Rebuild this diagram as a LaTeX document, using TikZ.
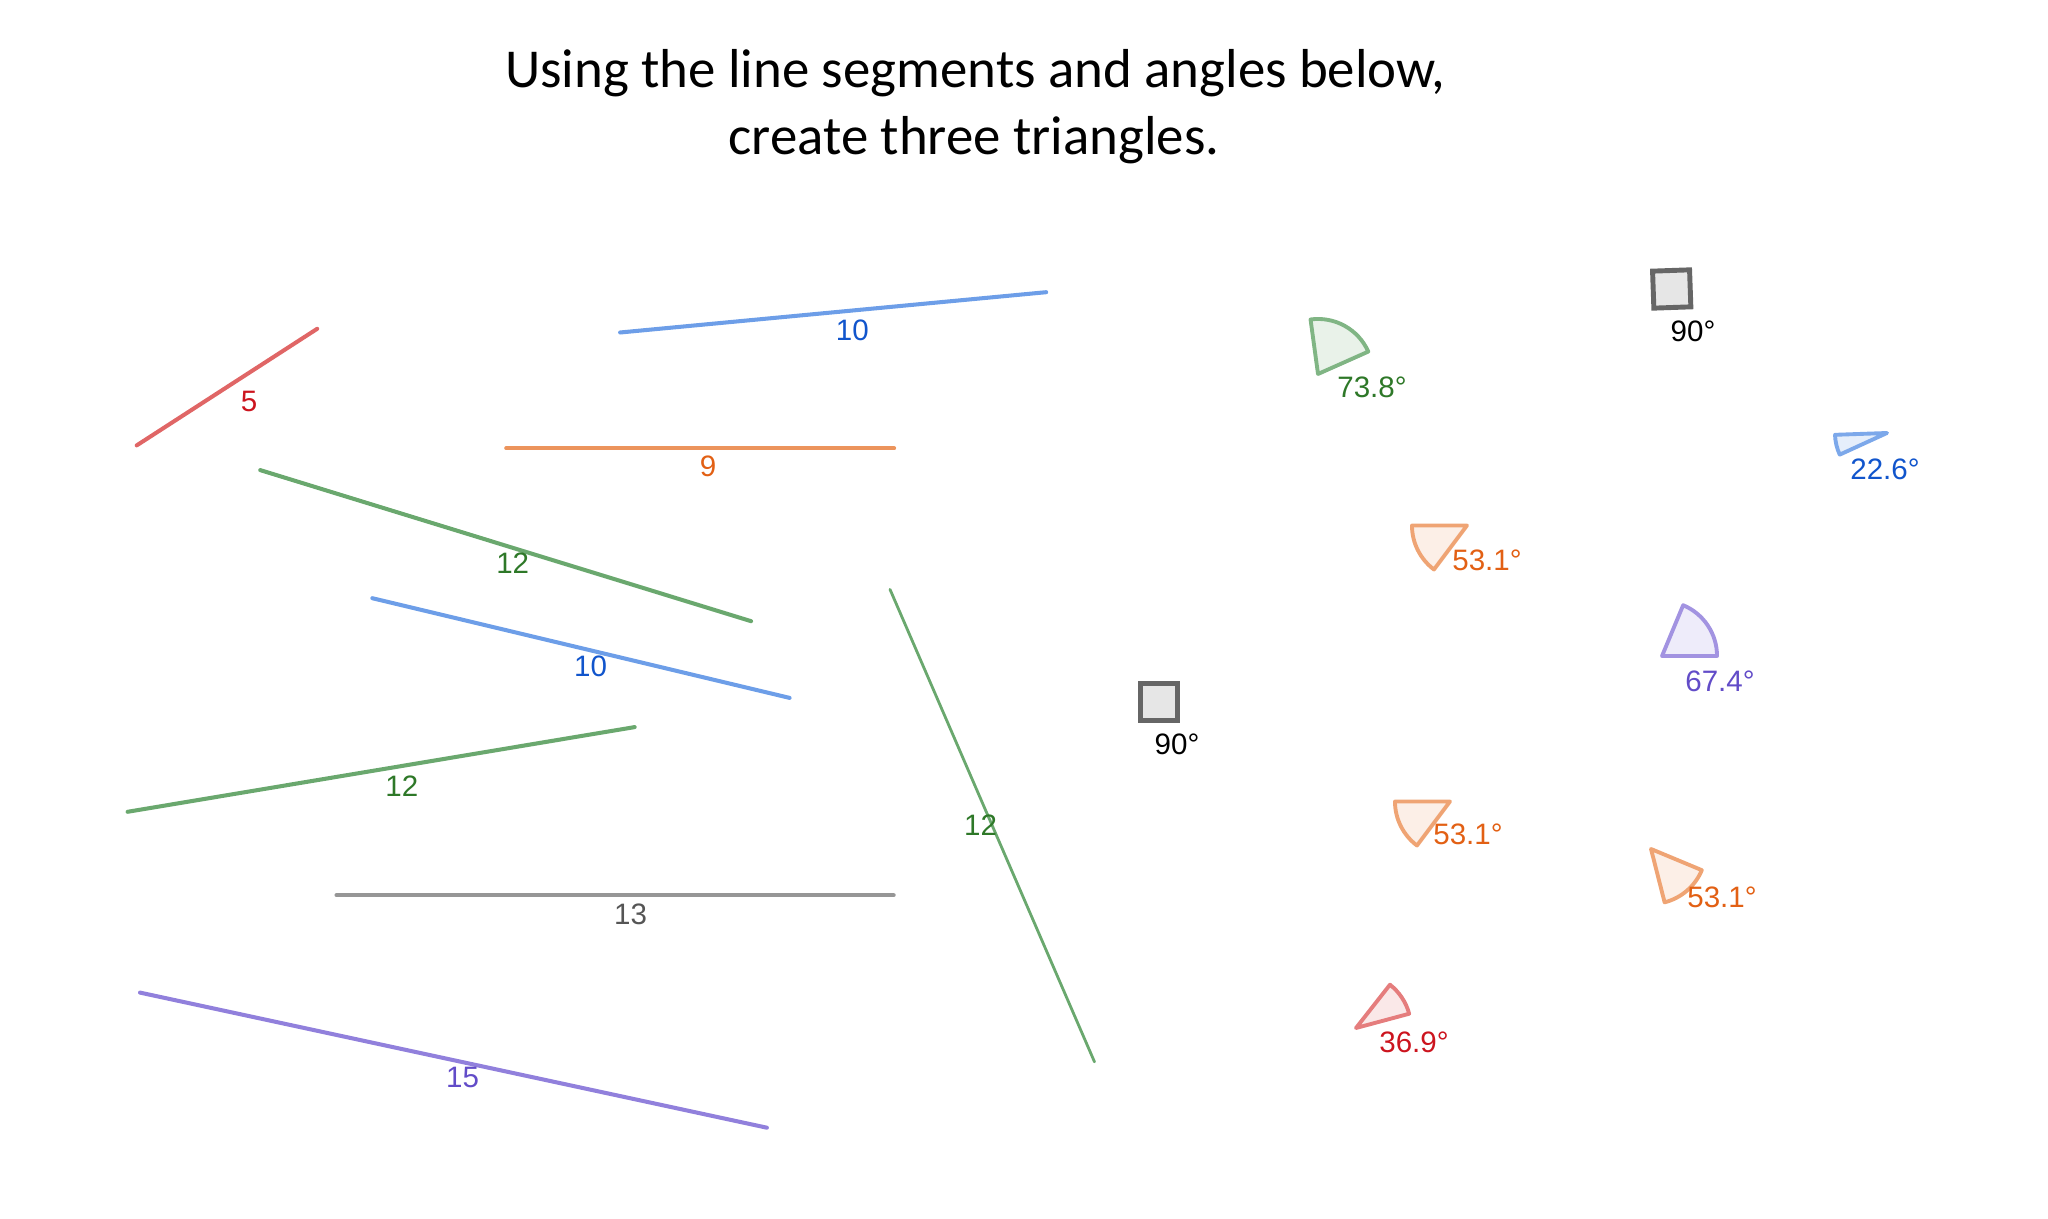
\documentclass[tikz,border=0pt]{standalone}
\usepackage{fontspec}
\setmainfont{Carlito}
\newfontfamily\labelfont{Liberation Sans}
\usetikzlibrary{positioning}
\definecolor{segRed}{RGB}{224,102,102}
\definecolor{segBlue}{RGB}{109,158,232}
\definecolor{segOrange}{RGB}{236,148,92}
\definecolor{segGreen}{RGB}{106,168,110}
\definecolor{segGray}{RGB}{150,150,150}
\definecolor{segPurple}{RGB}{145,128,220}
\definecolor{labRed}{RGB}{204,20,30}
\definecolor{labBlue}{RGB}{17,85,204}
\definecolor{labOrange}{RGB}{226,96,20}
\definecolor{labGreen}{RGB}{46,120,40}
\definecolor{labGray}{RGB}{85,85,85}
\definecolor{labPurple}{RGB}{98,76,200}
\definecolor{boxGray}{RGB}{102,102,102}
\definecolor{boxFill}{RGB}{230,230,230}

\begin{document}
\begin{tikzpicture}[x=0.01cm,y=-0.01cm]
    %
    % `segment' is used for the given line segments.
    % `wedge' is used for the angle sectors, `rightangle' for the 90 degree boxes.
    % `seglabel' is used for every length and angle label.
    \tikzstyle{segment} = [line width=1.15pt,line cap=round]
    \tikzstyle{wedge} = [line width=1.1pt,line join=round]
    \tikzstyle{rightangle} = [draw=boxGray,fill=boxFill,line width=1.4pt,minimum size=0.37cm,inner sep=0pt]
    \tikzstyle{seglabel} = [font=\labelfont\fontsize{8.4}{10}\selectfont,inner sep=0pt]
    \useasboundingbox (0,0) rectangle (2048,1219);
    %
    % Title
    \node[anchor=base,font=\fontsize{15.6}{19}\selectfont] (title1) at (975,88) {Using the line segments and angles below,};
    \node[anchor=base,font=\fontsize{15.6}{19}\selectfont] (title2) at (974,155) {create three triangles.};
    %
    % Segment ends
    \coordinate (s5a) at (136.7,445.4);  \coordinate (s5b) at (317.2,328.8);
    \coordinate (s10a) at (620.1,332.5); \coordinate (s10b) at (1046.2,292.2);
    \coordinate (s9a) at (506.2,448.4);  \coordinate (s9b) at (894.1,448.4);
    \coordinate (s12a) at (260.2,470.1); \coordinate (s12b) at (751.1,621.2);
    \coordinate (t10a) at (372.3,598.2); \coordinate (t10b) at (789.6,697.9);
    \coordinate (t12a) at (127.6,811.8); \coordinate (t12b) at (634.7,727.1);
    \coordinate (u12a) at (890,589.4);   \coordinate (u12b) at (1094.5,1061.9);
    \coordinate (s13a) at (336.5,895.3); \coordinate (s13b) at (893.7,895.3);
    \coordinate (s15a) at (140,992.6);   \coordinate (s15b) at (766.9,1127.7);
    %
    % Segments
    \draw[segment,segRed] (s5a) -- (s5b);
    \draw[segment,segBlue] (s10a) -- (s10b);
    \draw[segment,segOrange] (s9a) -- (s9b);
    \draw[segment,segGreen] (s12a) -- (s12b);
    \draw[segment,segBlue] (t10a) -- (t10b);
    \draw[segment,segGreen] (t12a) -- (t12b);
    \draw[segment,segGreen,line width=0.8pt] (u12a) -- (u12b);
    \draw[segment,segGray] (s13a) -- (s13b);
    \draw[segment,segPurple] (s15a) -- (s15b);
    %
    % Segment lengths
    \node[seglabel,labRed] (l5) at (249.1,401.5) {5};
    \node[seglabel,labBlue] (l10) at (852.3,330.8) {10};
    \node[seglabel,labOrange] (l9) at (708.1,465.9) {9};
    \node[seglabel,labGreen] (l12) at (512.7,563.1) {12};
    \node[seglabel,labBlue] (m10) at (590.5,666.7) {10};
    \node[seglabel,labGreen] (m12) at (401.8,786.4) {12};
    \node[seglabel,labGreen] (n12) at (980.6,825.3) {12};
    \node[seglabel,labGray] (l13) at (630.5,914) {13};
    \node[seglabel,labPurple] (l15) at (462.6,1077.7) {15};
    %
    % Angle vertices
    \coordinate (v74) at (1318,374);
    \coordinate (v23) at (1887,433);
    \coordinate (v53a) at (1467,525.5);
    \coordinate (v67) at (1662,656);
    \coordinate (v53b) at (1450,801.5);
    \coordinate (v53c) at (1651,849);
    \coordinate (v37) at (1356,1028);
    %
    % Angles
    \draw[wedge,draw=segGreen!85,fill=segGreen!15] (v74) -- ++(24:0.55cm) arc[start angle=24,end angle=97.8,radius=0.55cm] -- cycle;
    \draw[wedge,draw=segBlue!90,fill=segBlue!18] (v23) -- ++(182:0.52cm) arc[start angle=182,end angle=204.6,radius=0.52cm] -- cycle;
    \draw[wedge,draw=segOrange!85,fill=segOrange!15] (v53a) -- ++(180:0.55cm) arc[start angle=180,end angle=233.1,radius=0.55cm] -- cycle;
    \draw[wedge,draw=segPurple!85,fill=segPurple!15] (v67) -- ++(0:0.55cm) arc[start angle=0,end angle=67.4,radius=0.55cm] -- cycle;
    \draw[wedge,draw=segOrange!85,fill=segOrange!15] (v53b) -- ++(180:0.55cm) arc[start angle=180,end angle=233.1,radius=0.55cm] -- cycle;
    \draw[wedge,draw=segOrange!85,fill=segOrange!15] (v53c) -- ++(-75.7:0.55cm) arc[start angle=-75.7,end angle=-22.6,radius=0.55cm] -- cycle;
    \draw[wedge,draw=segRed!85,fill=segRed!15] (v37) -- ++(15:0.55cm) arc[start angle=15,end angle=51.9,radius=0.55cm] -- cycle;
    \node[rightangle,rotate=2] (sq1) at (1671.7,289) {};
    \node[rightangle] (sq2) at (1159,702.3) {};
    %
    % Angle sizes
    \node[seglabel,labGreen] (a74) at (1372,387) {73.8°};
    \node[seglabel,black] (a90) at (1693,331) {90°};
    \node[seglabel,labBlue] (a23) at (1885,469) {22.6°};
    \node[seglabel,labOrange] (a53) at (1487,560) {53.1°};
    \node[seglabel,labPurple] (a67) at (1720,681) {67.4°};
    \node[seglabel,black] (b90) at (1177,744) {90°};
    \node[seglabel,labOrange] (b53) at (1468,834) {53.1°};
    \node[seglabel,labOrange] (c53) at (1722,897) {53.1°};
    \node[seglabel,labRed] (a37) at (1414,1042) {36.9°};
    %
\end{tikzpicture}
\end{document}
